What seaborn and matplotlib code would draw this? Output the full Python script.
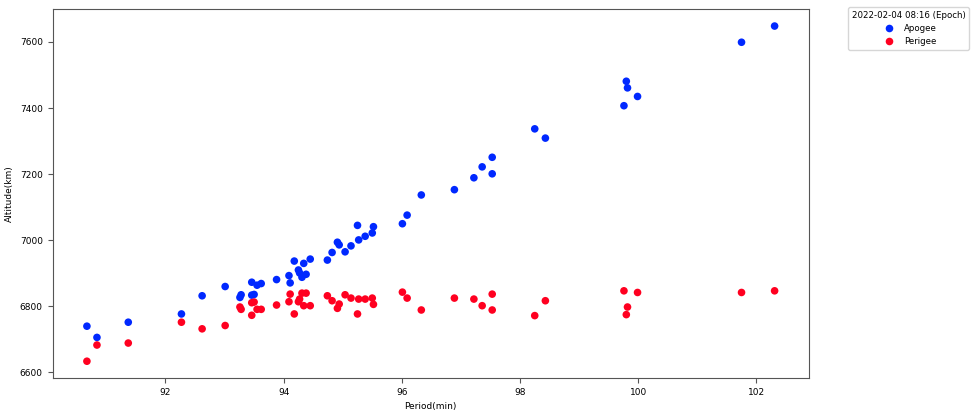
import seaborn as sns
import matplotlib.pyplot as plt
import pandas as pd

# values
period = [90.67, 90.84, 91.37, 92.27, 92.62, 93.01, 93.26, 93.28, 93.46, 93.46,
          93.50, 93.55, 93.62, 93.88, 94.09, 94.11, 94.18, 94.25, 94.27, 94.31,
          94.34, 94.38, 94.45, 94.74, 94.82, 94.91, 94.94, 95.04, 95.14, 95.25,
          95.27, 95.38, 95.50, 95.52, 96.01, 96.09, 96.33, 96.89, 97.22, 97.36,
          97.53, 97.53, 98.25, 98.43, 99.76, 99.80, 99.82, 99.99, 101.75, 102.31]

apogee = [6740, 6706, 6752, 6777, 6832, 6860, 6827, 6835, 6873, 6834,
          6836, 6864, 6869, 6881, 6893, 6871, 6937, 6910, 6901, 6888,
          6930, 6897, 6943, 6940, 6963, 6994, 6986, 6965, 6983, 7045,
          7001, 7012, 7022, 7041, 7050, 7076, 7137, 7153, 7189, 7222,
          7251, 7201, 7337, 7309, 7407, 7481, 7461, 7435, 7599, 7648]

perigee = [6634, 6683, 6689, 6752, 6732, 6742, 6798, 6791, 6773, 6811,
           6813, 6791, 6791, 6804, 6814, 6837, 6777, 6814, 6822, 6840,
           6802, 6840, 6802, 6832, 6817, 6794, 6807, 6835, 6825, 6777,
           6822, 6822, 6825, 6806, 6843, 6825, 6789, 6825, 6822, 6802,
           6837, 6789, 6772, 6817, 6847, 6775, 6798, 6842, 6842, 6847]

epoch = "2022-02-04 08:16 (Epoch)"

df = pd.concat([
    pd.DataFrame({"Period": period, "Altitude": apogee, "kind": "Apogee"}),
    pd.DataFrame({"Period": period, "Altitude": perigee, "kind": "Perigee"}),
])

plt.rcParams["font.size"] = 6.5

fig, ax = plt.subplots(figsize=(9.8, 4.15), dpi=100)
fig.subplots_adjust(left=0.0536, right=0.8255, top=0.9776, bottom=0.0892)

sns.scatterplot(data=df, x="Period", y="Altitude", hue="kind",
                palette={"Apogee": "#0028ff", "Perigee": "#ff0020"},
                s=30, edgecolor="none", ax=ax)

ax.set_xlabel("Period(min)", fontsize=6.5)
ax.set_ylabel("Altitude(km)", fontsize=6.5)
ax.set_xticks([92, 94, 96, 98, 100, 102])
ax.set_yticks([6600, 6800, 7000, 7200, 7400, 7600])
ax.tick_params(labelsize=6.5, color="#555555")
for sp in ax.spines.values():
    sp.set_color("#555555")

ax.legend(title=epoch, loc="upper left", bbox_to_anchor=(1.052, 1.006),
          borderaxespad=0, fontsize=6.2, title_fontsize=6.2)

fig.savefig("out.png", dpi=100)
